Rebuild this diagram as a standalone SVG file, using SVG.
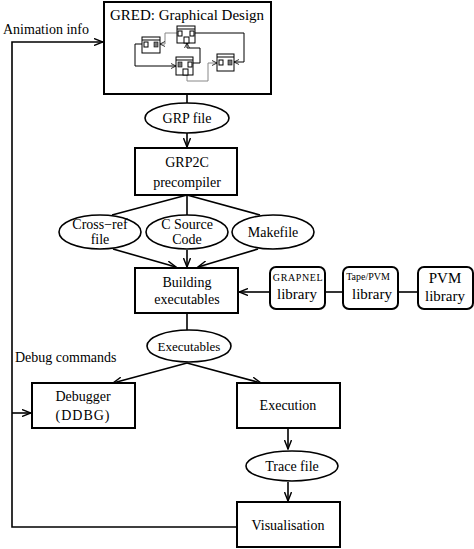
<svg xmlns="http://www.w3.org/2000/svg" width="474" height="549" viewBox="0 0 474 549">
<defs>
<style>
.box{fill:#fff;stroke:#000;stroke-width:2}
.ell{fill:#fff;stroke:#000;stroke-width:1.6}
text{font-family:"Liberation Serif","Times New Roman",serif;fill:#000}
.t{text-anchor:middle}
.c{fill:none;stroke:#000;stroke-width:1.6}
.g{fill:none;stroke:#888;stroke-width:1}
.gk{fill:none;stroke:#000;stroke-width:1}
.mb{fill:#fff;stroke:#000;stroke-width:1}
</style>
<marker id="ah" markerWidth="10" markerHeight="8" refX="9" refY="4" orient="auto" markerUnits="userSpaceOnUse">
<path d="M0,0.5 L9,4 L0,7.5" fill="none" stroke="#000" stroke-width="1.4"/>
</marker>
<marker id="sa" markerWidth="6" markerHeight="6" refX="5" refY="3" orient="auto" markerUnits="userSpaceOnUse">
<path d="M0,0.5 L5,3 L0,5.5" fill="none" stroke="#000" stroke-width="0.8"/>
</marker>
</defs>

<g id="connectors">
<line class="c" x1="187" y1="94" x2="187" y2="104"/>
<line class="c" x1="187" y1="133" x2="187" y2="147" marker-end="url(#ah)"/>
<line class="c" x1="187" y1="195" x2="112" y2="215"/>
<line class="c" x1="187" y1="195" x2="187" y2="215"/>
<line class="c" x1="187" y1="195" x2="260" y2="215"/>
<line class="c" x1="113" y1="249" x2="176" y2="267" marker-end="url(#ah)"/>
<line class="c" x1="187" y1="250" x2="187" y2="267" marker-end="url(#ah)"/>
<line class="c" x1="258" y1="249" x2="198" y2="267" marker-end="url(#ah)"/>
<line class="c" x1="270" y1="292" x2="239" y2="292" marker-end="url(#ah)"/>
<line class="c" x1="325" y1="292" x2="343" y2="292"/>
<line class="c" x1="398" y1="292" x2="418" y2="292"/>
<line class="c" x1="187" y1="313" x2="187" y2="330"/>
<line class="c" x1="187" y1="363" x2="113" y2="383" marker-end="url(#ah)"/>
<line class="c" x1="187" y1="363" x2="261" y2="383" marker-end="url(#ah)"/>
<line class="c" x1="288" y1="428" x2="288" y2="449" marker-end="url(#ah)"/>
<line class="c" x1="288" y1="482" x2="288" y2="501" marker-end="url(#ah)"/>
<polyline class="c" points="237,527 12,527 12,42 103,42" marker-end="url(#ah)"/>
<line class="c" x1="12" y1="413" x2="31" y2="413" marker-end="url(#ah)"/>
</g>

<g id="label-animation"><text x="3" y="34" font-size="14">Animation info</text></g>
<g id="label-debug"><text x="15" y="362" font-size="14">Debug commands</text></g>

<g id="gred">
<rect class="box" x="104" y="2" width="167" height="92"/>
<text class="t" x="187" y="20" font-size="15">GRED: Graphical Design</text>
<polyline class="g" points="177,33 165,33 165,44 160,44" marker-end="url(#sa)"/>
<polyline class="gk" points="195,33 244,33 244,62 234,62" marker-end="url(#sa)"/>
<polyline class="gk" points="142,44 135,44 135,66 176,66" marker-end="url(#sa)"/>
<polyline class="gk" points="193,63 200,63 200,48 187,48 187,43" marker-end="url(#sa)"/>
<polyline class="g" points="187,75 187,81 208,81 208,63 217,63" marker-end="url(#sa)"/>
<g>
<rect class="mb" x="142" y="37" width="18" height="16"/>
<line class="gk" x1="142" y1="40" x2="160" y2="40"/>
<rect class="mb" x="144" y="42" width="4" height="5"/>
<rect x="154" y="42" width="4" height="5" fill="#777" stroke="#000" stroke-width="0.6"/>
</g>
<g>
<rect class="mb" x="177" y="26" width="18" height="17"/>
<line class="gk" x1="177" y1="29" x2="195" y2="29"/>
<rect class="mb" x="178" y="31" width="4" height="5"/>
<rect class="mb" x="190" y="31" width="4" height="5"/>
<rect class="mb" x="184" y="37" width="5" height="6"/>
</g>
<g>
<rect class="mb" x="176" y="57" width="17" height="18"/>
<line class="gk" x1="176" y1="60" x2="193" y2="60"/>
<rect x="178" y="62" width="4" height="5" fill="#777" stroke="#000" stroke-width="0.6"/>
<rect class="mb" x="188" y="62" width="4" height="5"/>
<rect class="mb" x="183" y="69" width="5" height="6"/>
</g>
<g>
<rect class="mb" x="217" y="54" width="17" height="17"/>
<line class="gk" x1="217" y1="57" x2="234" y2="57"/>
<rect class="mb" x="219" y="60" width="4" height="5"/>
<rect x="228" y="60" width="4" height="5" fill="#777" stroke="#000" stroke-width="0.6"/>
</g>
</g>

<g id="grpfile">
<ellipse class="ell" cx="187" cy="118" rx="42" ry="15"/>
<text class="t" x="187" y="123" font-size="14">GRP file</text>
</g>

<g id="grp2c">
<rect class="box" x="135" y="148" width="102" height="47"/>
<text class="t" x="187" y="167" font-size="14">GRP2C</text>
<text class="t" x="187" y="187" font-size="14">precompiler</text>
</g>

<g id="crossref">
<ellipse class="ell" cx="100" cy="232" rx="41" ry="17"/>
<text class="t" x="100" y="229" font-size="14">Cross−ref</text>
<text class="t" x="100" y="244" font-size="14">file</text>
</g>

<g id="csource">
<ellipse class="ell" cx="187" cy="232" rx="41" ry="17"/>
<text class="t" x="187" y="229" font-size="14">C Source</text>
<text class="t" x="187" y="244" font-size="14">Code</text>
</g>

<g id="makefile">
<ellipse class="ell" cx="273" cy="232" rx="41" ry="17"/>
<text class="t" x="273" y="237" font-size="14">Makefile</text>
</g>

<g id="building">
<rect class="box" x="135" y="268" width="103" height="45"/>
<text class="t" x="187" y="287" font-size="14">Building</text>
<text class="t" x="187" y="304" font-size="14">executables</text>
</g>

<g id="grapnel">
<rect class="box" x="270" y="267" width="55" height="42" rx="6"/>
<text class="t" x="298" y="281" font-size="10" letter-spacing="0.6">GRAPNEL</text>
<text class="t" x="297" y="299" font-size="15">library</text>
</g>

<g id="tapepvm">
<rect class="box" x="343" y="267" width="55" height="42" rx="6"/>
<text class="t" x="368" y="280" font-size="10">Tape/PVM</text>
<text class="t" x="372" y="299" font-size="15">library</text>
</g>

<g id="pvm">
<rect class="box" x="418" y="267" width="55" height="42" rx="6"/>
<text class="t" x="445" y="283" font-size="15">PVM</text>
<text class="t" x="445" y="301" font-size="15">library</text>
</g>

<g id="executables">
<ellipse class="ell" cx="189" cy="346" rx="42" ry="16"/>
<text class="t" x="189" y="351" font-size="13">Executables</text>
</g>

<g id="debugger">
<rect class="box" x="32" y="383" width="103" height="45"/>
<text class="t" x="83" y="401" font-size="14">Debugger</text>
<text class="t" x="83" y="420" font-size="14" letter-spacing="1">(DDBG)</text>
</g>

<g id="execution">
<rect class="box" x="237" y="383" width="103" height="45"/>
<text class="t" x="288" y="410" font-size="14">Execution</text>
</g>

<g id="tracefile">
<ellipse class="ell" cx="292" cy="466" rx="46" ry="15"/>
<text class="t" x="292" y="471" font-size="14">Trace file</text>
</g>

<g id="visualisation">
<rect class="box" x="237" y="502" width="103" height="45"/>
<text class="t" x="288" y="530" font-size="14">Visualisation</text>
</g>
</svg>
